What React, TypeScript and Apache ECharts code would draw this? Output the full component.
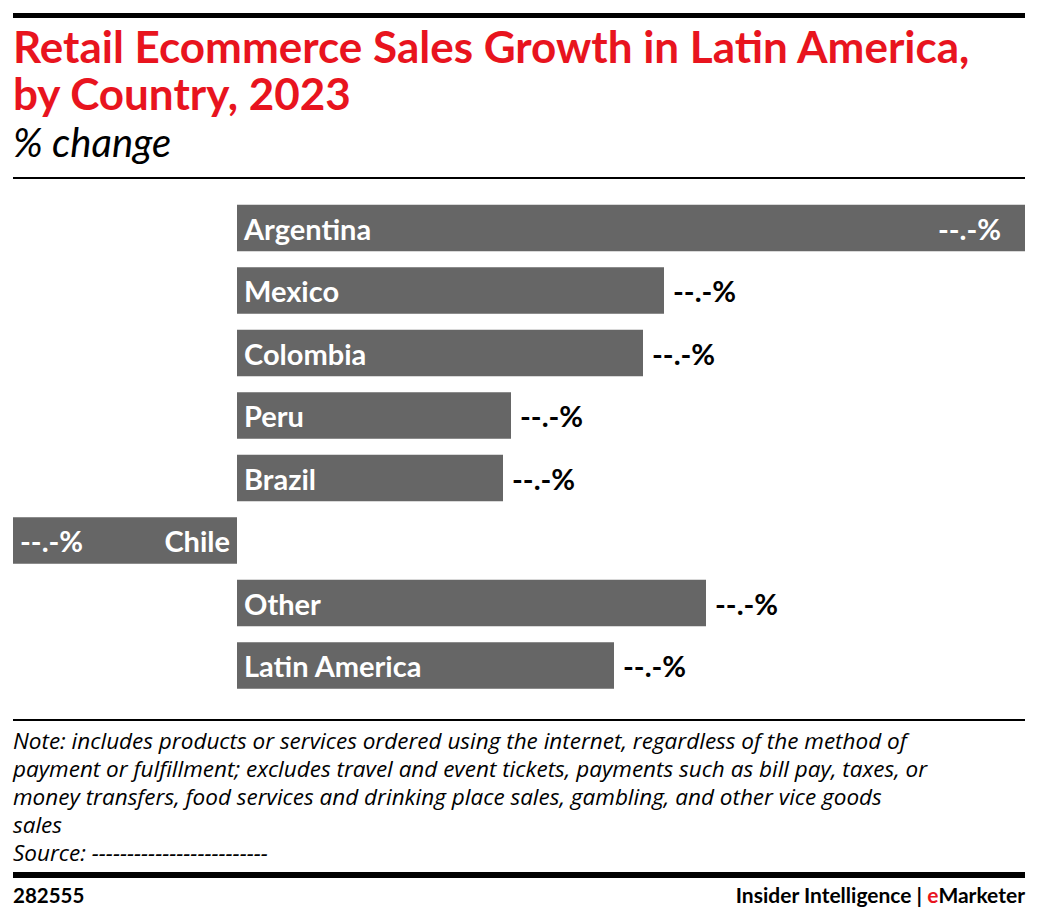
import React, { useEffect, useRef } from "react";
import * as echarts from "echarts";

const categories = ["Argentina", "Mexico", "Colombia", "Peru", "Brazil", "Chile", "Other", "Latin America"];
const values = [78.8, 42.7, 40.6, 27.4, 26.6, -22.4, 46.9, 37.7];
const valueLabels = ["--.-%", "--.-%", "--.-%", "--.-%", "--.-%", "--.-%", "--.-%", "--.-%"];

const titleLines = ["Retail Ecommerce Sales Growth in Latin America,", "by Country, 2023"];
const subtitle = "% change";
const noteLines = [
  "Note: includes products or services ordered using the internet, regardless of the method of",
  "payment or fulfillment; excludes travel and event tickets, payments such as bill pay, taxes, or",
  "money transfers, food services and drinking place sales, gambling, and other vice goods",
  "sales",
  "Source: -------------------------",
];
const chartId = "282555";

const FONT = "Lato, 'Open Sans', sans-serif";
const NOTE_FONT = "'Open Sans', Lato, sans-serif";

export default function App() {
  const ref = useRef<HTMLDivElement>(null);
  useEffect(() => {
    document.body.style.margin = "0";
    const chart = echarts.init(ref.current!, null, { renderer: "svg" });
    const maxV = Math.max(...values);
    const nameData = values.map((v, i) => ({
      value: v,
      label: {
        show: true,
        position: v < 0 ? "insideRight" : "insideLeft",
        distance: 7,
        formatter: categories[i],
        color: "#fff",
        fontFamily: FONT,
        fontWeight: "bold",
        fontSize: 29,
      },
    }));
    const valData = values.map((v, i) => ({
      value: v,
      label: {
        show: true,
        position: v < 0 ? "insideLeft" : v === maxV ? "insideRight" : "right",
        distance: v < 0 ? 7 : v === maxV ? 24 : 9,
        formatter: valueLabels[i],
        color: v < 0 || v === maxV ? "#fff" : "#000",
        fontFamily: FONT,
        fontWeight: "bold",
        fontSize: 29,
      },
    }));
    const graphics: any[] = [
      { type: "rect", shape: { x: 13, y: 13, width: 1012, height: 5 }, style: { fill: "#000" } },
      ...titleLines.map((t, i) => ({
        type: "text",
        x: 13,
        y: 24 + i * 47,
        style: { text: t, fill: "#e8141e", font: `bold 44px ${FONT}` },
      })),
      { type: "text", x: 13, y: 122, style: { text: subtitle, fill: "#000", font: `italic 40px ${FONT}` } },
      { type: "rect", shape: { x: 13, y: 177, width: 1012, height: 2 }, style: { fill: "#000" } },
      { type: "rect", shape: { x: 13, y: 719, width: 1012, height: 2 }, style: { fill: "#000" } },
      ...noteLines.map((t, i) => ({
        type: "text",
        x: 13,
        y: 729 + i * 28,
        style: { text: t, fill: "#000", font: `italic 22.5px ${NOTE_FONT}` },
      })),
      { type: "rect", shape: { x: 13, y: 872, width: 1012, height: 6 }, style: { fill: "#000" } },
      { type: "text", x: 13, y: 884, style: { text: chartId, fill: "#000", font: `bold 20.5px ${FONT}` } },
      {
        type: "text",
        x: 1025,
        y: 884,
        style: {
          text: "{a|Insider Intelligence | }{b|e}{a|Marketer}",
          align: "right",
          rich: {
            a: { fill: "#000", font: `bold 21px ${FONT}` },
            b: { fill: "#e8141e", font: `bold 21px ${FONT}` },
          },
        },
      },
    ];
    chart.setOption({
      animation: false,
      grid: { left: 13, right: 13, top: 196.75, height: 500 },
      xAxis: { type: "value", min: -22.4, max: 78.8, show: false },
      yAxis: { type: "category", data: categories, inverse: true, show: false },
      series: [
        {
          type: "bar",
          data: nameData,
          barCategoryGap: "25.6%",
          itemStyle: { color: "#666666" },
          silent: true,
        },
        {
          type: "bar",
          data: valData,
          barGap: "-100%",
          barCategoryGap: "25.6%",
          itemStyle: { color: "rgba(0,0,0,0)" },
          silent: true,
        },
      ],
      graphic: graphics,
    });
    return () => chart.dispose();
  }, []);
  return <div ref={ref} style={{ width: 1038, height: 920 }} />;
}
